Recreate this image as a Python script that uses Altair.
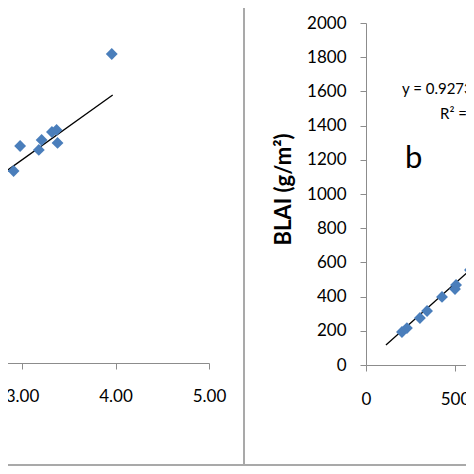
import altair as alt
import pandas as pd

# Panel a (left, mostly cropped)
a_x = [3.96, 2.98, 2.91, 3.18, 3.21, 3.32, 3.37, 3.38]
a_y = [1807, 1269, 1123, 1246, 1304, 1351, 1363, 1287]
a_line_x = [2.0, 3.97]
a_line_y = [797, 1567]

# Panel b (right)
b_x = [202, 230, 303, 343, 427, 500, 506, 584]
b_y = [193, 216, 275, 316, 398, 444, 468, 556]
b_line_x = [112, 1900]
b_line_y = [117, 1775]

eq_text = ["y = 0.9273x + 13.4", "R² = 0.9912"]
eq_x = [202, 416]
eq_y = [1585, 1439]
panel_label = ["b"]
panel_label_x = [219]
panel_label_y = [1152]

a_ticks = [3, 4, 5]
b_xticks = [0, 500, 1000, 1500, 2000]
b_yticks = list(range(0, 2001, 200))

FONT = "Lato"
BLUE = "#4a7ebb"
AX = "#8c8c8c"

W = 458
H = 458

dfa = pd.DataFrame({"ax": a_x, "ay": a_y})
dfal = pd.DataFrame({"ax": a_line_x, "ay": a_line_y})
dfb = pd.DataFrame({"bx": b_x, "by": b_y})
dfbl = pd.DataFrame({"bx": b_line_x, "by": b_line_y})
dfeq = pd.DataFrame({"bx": eq_x, "by": eq_y, "t": eq_text})
dfl = pd.DataFrame({"bx": panel_label_x, "by": panel_label_y, "t": panel_label})

xa_scale = alt.Scale(domain=[0, 5], range=[-266.5, 201])
ya_scale = alt.Scale(domain=[0, 2000], range=[355, 13])
xb_scale = alt.Scale(domain=[0, 2000], range=[358, 714])
yb_scale = alt.Scale(domain=[0, 2000], range=[357, 15])

axis_common = dict(grid=False, domainColor=AX, tickColor=AX, tickSize=6,
                   labelFont=FONT, labelFontSize=17, labelColor="#000000",
                   labelFlush=False, labelOverlap=False, domainWidth=1, tickWidth=1)

xa_axis = alt.Axis(values=a_ticks, format=".2f", orient="bottom", offset=-(H - 355),
                   title=None, labelPadding=19, **axis_common)
xb_axis = alt.Axis(values=b_xticks, format="d", orient="bottom", offset=-(H - 357),
                   title=None, labelPadding=20, **axis_common)
yb_axis = alt.Axis(values=b_yticks, format="d", orient="left", offset=-358,
                   title="BLAI (g/m²)", titleFont=FONT, titleFontSize=22,
                   titleFontWeight="bold", titleColor="#000000",
                   titleX=-83, titleY=181, titleAngle=270, titleAlign="center",
                   titleBaseline="middle", labelPadding=14, **axis_common)

pa = alt.Chart(dfa).mark_point(shape="diamond", filled=True, size=140, color=BLUE, opacity=1).encode(
    x=alt.X("ax:Q", scale=xa_scale, axis=xa_axis),
    y=alt.Y("ay:Q", scale=ya_scale, axis=None))
la = alt.Chart(dfal).mark_line(color="#000000", strokeWidth=1.3).encode(
    x=alt.X("ax:Q", scale=xa_scale, axis=None),
    y=alt.Y("ay:Q", scale=ya_scale, axis=None))
pb = alt.Chart(dfb).mark_point(shape="diamond", filled=True, size=140, color=BLUE, opacity=1).encode(
    x=alt.X("bx:Q", scale=xb_scale, axis=xb_axis),
    y=alt.Y("by:Q", scale=yb_scale, axis=yb_axis))
lb = alt.Chart(dfbl).mark_line(color="#000000", strokeWidth=1.3).encode(
    x=alt.X("bx:Q", scale=xb_scale, axis=None),
    y=alt.Y("by:Q", scale=yb_scale, axis=None))
tb = alt.Chart(dfeq).mark_text(font=FONT, fontSize=15, align="left", baseline="alphabetic", color="#000000").encode(
    x=alt.X("bx:Q", scale=xb_scale, axis=None),
    y=alt.Y("by:Q", scale=yb_scale, axis=None),
    text="t:N")
lbl = alt.Chart(dfl).mark_text(font=FONT, fontSize=31, align="left", baseline="alphabetic", color="#000000").encode(
    x=alt.X("bx:Q", scale=xb_scale, axis=None),
    y=alt.Y("by:Q", scale=yb_scale, axis=None),
    text="t:N")

border_v = alt.Chart(pd.DataFrame({"k": [0]})).mark_rule(color="#a9a9a9", strokeWidth=2).encode(
    x=alt.value(236), y=alt.value(-2), y2=alt.value(H))
border_h = alt.Chart(pd.DataFrame({"k": [0]})).mark_rule(color="#a9a9a9", strokeWidth=2).encode(
    x=alt.value(-2), x2=alt.value(W + 2), y=alt.value(H - 1))

chart = alt.layer(la, pa, lb, pb, tb, lbl, border_v, border_h).resolve_scale(
    x="independent", y="independent").resolve_axis(x="independent", y="independent").properties(
    width=W, height=H, autosize=alt.AutoSizeParams(type="none"), padding=0,
    background="#ffffff").configure_view(strokeWidth=0)

chart.save("out.html", embed_options={"renderer": "svg", "actions": False})
